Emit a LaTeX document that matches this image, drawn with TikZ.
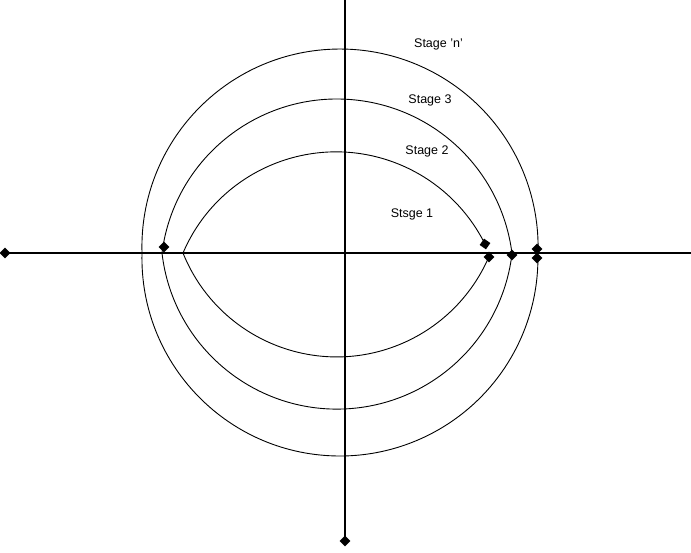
\documentclass[tikz,border=0pt]{standalone}
\usepackage{fontspec}
\setmainfont{Liberation Sans}
\usetikzlibrary{shapes.geometric}

\tikzset{
  tip/.style={diamond, fill=black, inner sep=0pt, minimum size=11pt},
  stagelabel/.style={font=\fontsize{12.5}{14}\selectfont},
  curve/.style={line width=0.9pt}
}

\begin{document}
\begin{tikzpicture}[x=1pt, y=-1pt]
\useasboundingbox (0,0) rectangle (691,553);

% Axes
\node[tip] (xl) at (5,253) {};
\node[tip] (yb) at (345,541) {};
\coordinate (xr) at (691,253);
\coordinate (yt) at (345,0);
\draw[line width=1.1pt] (xl.center) -- (xr);
\draw[line width=1.1pt] (yt) -- (yb.center);

% Left meeting points of the stages
\coordinate (lensL) at (183,253);
\coordinate (ringL) at (162,253);
\coordinate (outL) at (142,253);

% Stage 1 / 2: the lens
\draw[curve] (lensL) arc[start angle=203.1, end angle=333.4, radius=166.4];
\draw[curve] (lensL) arc[start angle=158.1, end angle=23.4, radius=165.7];

% Stage 3
\draw[curve] (ringL) arc[start angle=187.3, end angle=352.7, radius=176.4];
\draw[curve] (ringL) arc[start angle=173.45, end angle=6.55, radius=176.2];

% Stage 'n'
\draw[curve] (outL) arc[start angle=178.3, end angle=360.55, radius=198.1];
\draw[curve] (outL) arc[start angle=181.45, end angle=0, radius=198];

% Points on the stages
\node[tip] (p3l) at (164,247) {};
\node[tip, rotate=10] (p1a) at (485,244) {};
\node[tip] (p1b) at (489,257) {};
\node[tip] (p3r) at (512,255) {};
\node[tip] (pna) at (537,249) {};
\node[tip] (pnb) at (537,258) {};

% Labels
\node[stagelabel] (ln) at (438.5,44) {Stage 'n'};
\node[stagelabel] (l3) at (430,100) {Stage 3};
\node[stagelabel] (l2) at (427,151) {Stage 2};
\node[stagelabel] (l1) at (412,214) {Stsge 1};

\end{tikzpicture}
\end{document}
